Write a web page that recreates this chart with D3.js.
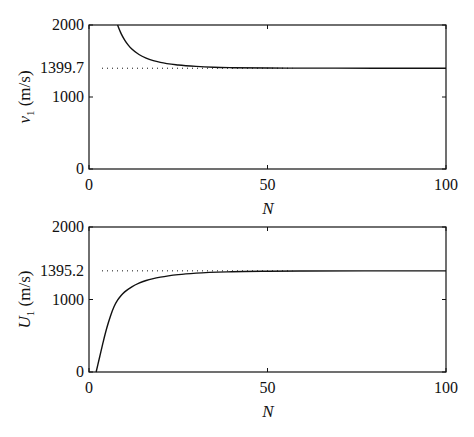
<!DOCTYPE html><html><head><meta charset="utf-8"><script src="https://cdn.jsdelivr.net/npm/d3@7"></script>
<style>body{margin:0;background:#fff}text{font-family:"Liberation Serif","Times New Roman",serif;fill:#111}</style></head><body>
<svg id="c" width="474" height="437"></svg>
<script>
const xTicks=[0,50,100];
const yTicksV=[0,1000,1399.7,2000];
const yTicksU=[0,1000,1395.2,2000];
const vN=[8,9,10,11,12,14,16,18,20,25,30,35,40,50,60,80,100];
const vVal=[2000,1880,1790,1720,1665,1590,1540,1505,1480,1445,1425,1413,1407,1402,1401,1400,1399.7];
const uN=[2,3,4,5,6,7,8,9,10,12,14,16,18,20,25,30,40,50,60,80,100];
const uVal=[0,210,420,610,770,900,990,1055,1105,1175,1225,1262,1288,1308,1343,1364,1383,1390,1393,1395,1395.2];
const svg=d3.select("#c");
function panel(top,bot,N,V,yt,ref,lab){
 const x=d3.scaleLinear().domain([0,100]).range([89,446]);
 const y=d3.scaleLinear().domain([0,2000]).range([bot,top]);
 const g=svg.append("g");
 g.append("rect").attr("x",89).attr("y",top).attr("width",357).attr("height",bot-top).attr("fill","none").attr("stroke","#111").attr("stroke-width",1.2);
 xTicks.forEach(t=>{g.append("line").attr("x1",x(t)).attr("x2",x(t)).attr("y1",bot).attr("y2",bot-4).attr("stroke","#111");
  g.append("line").attr("x1",x(t)).attr("x2",x(t)).attr("y1",top).attr("y2",top+4).attr("stroke","#111");
  g.append("text").attr("x",x(t)).attr("y",bot+21).attr("text-anchor","middle").attr("font-size",16).text(t);});
 yt.forEach(t=>{ if(t!==ref){g.append("line").attr("x1",89).attr("x2",93).attr("y1",y(t)).attr("y2",y(t)).attr("stroke","#111");
  g.append("line").attr("x1",446).attr("x2",442).attr("y1",y(t)).attr("y2",y(t)).attr("stroke","#111");}
  g.append("text").attr("x",84).attr("y",y(t)+5).attr("text-anchor","end").attr("font-size",16).text(t);});
 g.append("line").attr("x1",102).attr("x2",x(57)).attr("y1",y(ref)).attr("y2",y(ref)).attr("stroke","#111").attr("stroke-dasharray","1,4");
 g.append("path").datum(N.map((n,i)=>[n,V[i]])).attr("fill","none").attr("stroke","#111").attr("stroke-width",1.4)
  .attr("d",d3.line().x(d=>x(d[0])).y(d=>y(d[1])).curve(d3.curveMonotoneX));
 g.append("text").attr("x",268).attr("y",bot+45).attr("text-anchor","middle").attr("font-size",17).attr("font-style","italic").text("N");
 const yl=g.append("text").attr("transform",`translate(30,${(top+bot)/2}) rotate(-90)`).attr("text-anchor","middle").attr("font-size",17);
 yl.append("tspan").attr("font-style","italic").text(lab);
 yl.append("tspan").attr("font-size",11).attr("dy",4).text("1");
 yl.append("tspan").attr("dy",-4).text(" (m/s)");
}
panel(25,169,vN,vVal,yTicksV,1399.7,"v");
panel(227,372,uN,uVal,yTicksU,1395.2,"U");
</script></body></html>
